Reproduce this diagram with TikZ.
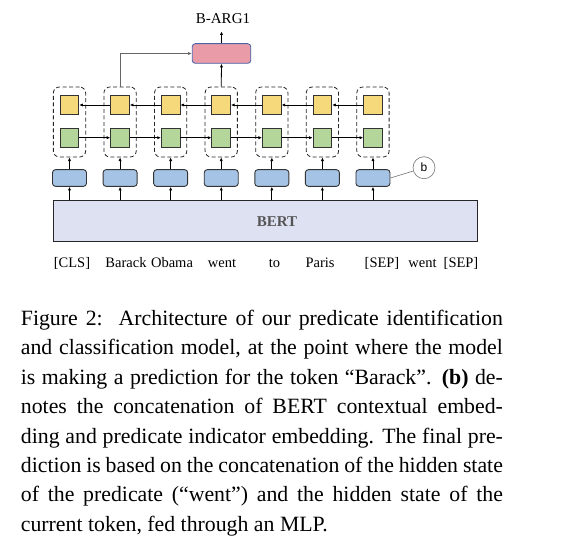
\documentclass[tikz,border=0pt]{standalone}
\usepackage{fontspec}
\setmainfont{Liberation Serif}
\newfontfamily\sansfam{Liberation Sans}
\usetikzlibrary{arrows.meta}
\definecolor{yel}{HTML}{F6D97A}
\definecolor{grn}{HTML}{B5D69B}
\definecolor{blu}{HTML}{A5C3E4}
\definecolor{pnk}{HTML}{E99CA8}
\definecolor{bertfill}{HTML}{DDE1F1}
\definecolor{mlpborder}{HTML}{4A64A8}
\definecolor{berttext}{HTML}{555555}
\begin{document}
\begin{tikzpicture}[x=1pt,y=-1pt,
  arr/.style={line width=0.8pt,-{Latex[length=3.6pt,width=3.2pt]}},
  sq/.style={draw=black!80,line width=0.8pt,minimum width=18.7pt,minimum height=18.7pt,inner sep=0},
  colbox/.style={draw=black!85,dashed,dash pattern=on 4pt off 2.5pt,line width=0.8pt,rounded corners=6pt,minimum width=32.3pt,minimum height=70pt,inner sep=0},
  embbox/.style={draw=black!80,fill=blu,line width=0.9pt,rounded corners=3pt,minimum width=34pt,minimum height=16.7pt,inner sep=0},
  tok/.style={inner sep=0,anchor=base,font=\fontsize{14.5}{16}\selectfont}]
\useasboundingbox (0,0) rectangle (578,551);
% columns
\foreach \i in {1,...,7}{
  \pgfmathsetmacro{\cx}{69.5+(\i-1)*50.58}
  \node[colbox] (d\i) at (\cx,122) {};
  \node[sq,fill=yel] (y\i) at (\cx,105) {};
  \node[sq,fill=grn] (g\i) at (\cx,137.7) {};
  \node[embbox] (e\i) at (\cx,178) {};
}
% BERT
\node[draw=black!85,fill=bertfill,line width=1pt,minimum width=424pt,minimum height=41pt,inner sep=0,
  font=\fontsize{15}{17}\selectfont\bfseries,text=berttext] (bert) at (265,221.2) {\hspace*{24pt}BERT};
% recurrent arrows
\foreach \i/\j in {1/2,2/3,3/4,4/5,5/6,6/7}{
  \draw[arr] (y\j.west) -- (y\i.east);
  \draw[arr] (g\i.east) -- (g\j.west);
}
% vertical arrows
\foreach \i in {1,...,7}{
  \draw[arr] (e\i.north) -- (d\i.south);
  \draw[arr] (bert.north -| e\i) -- (e\i.south);
}
% MLP
\node[draw=mlpborder,fill=pnk,line width=0.9pt,rounded corners=3pt,minimum width=58.5pt,minimum height=19.6pt,inner sep=0] (mlp) at (221.5,53.5) {};
\node[inner sep=0,anchor=base,font=\fontsize{15}{17}\selectfont] (lab) at (223,23.3) {B-ARG1};
\draw[arr] (d4.north) -- (mlp.south);
\draw[arr] (mlp.north) -- ([yshift=-7.7pt]lab.south -| mlp.north);
\draw[arr,draw=black!60] (d2.north) |- (mlp.west);
% (b)
\node[draw=black!55,line width=0.6pt,circle,minimum size=22pt,inner sep=0,font=\sansfam\fontsize{12}{14}\selectfont] (bc) at (424,167.7) {b};
\draw[draw=black!55,line width=0.6pt] (e7.east) -- (bc);
% tokens
\node[tok] (t1) at (72,267) {[CLS]};
\node[tok] (t2) at (126,267) {Barack};
\node[tok] (t3) at (172,267) {Obama};
\node[tok] (t4) at (222,267) {went};
\node[tok] (t5) at (274.5,267) {to};
\node[tok] (t6) at (320,267) {Paris};
\node[tok] (t7) at (382,267) {[SEP]};
\node[tok] (t8) at (422.5,267) {went};
\node[tok] (t9) at (461,267) {[SEP]};
% caption
\node[anchor=north west,inner sep=0,text width=482pt,align=justify,
  font=\fontsize{21.8}{29.4}\selectfont] (cap) at (20.7,310) {%
Figure 2:\ \ Architecture of our predicate identification\linebreak
and classification model, at the point where the model\linebreak
is making a prediction for the token ``Barack''. \textbf{(b)} de-\linebreak
notes the concatenation of BERT contextual embed-\linebreak
ding and predicate indicator embedding. The final pre-\linebreak
diction is based on the concatenation of the hidden state\linebreak
of the predicate (``went'') and the hidden state of the\linebreak
current token, fed through an MLP.};
\end{tikzpicture}
\end{document}
